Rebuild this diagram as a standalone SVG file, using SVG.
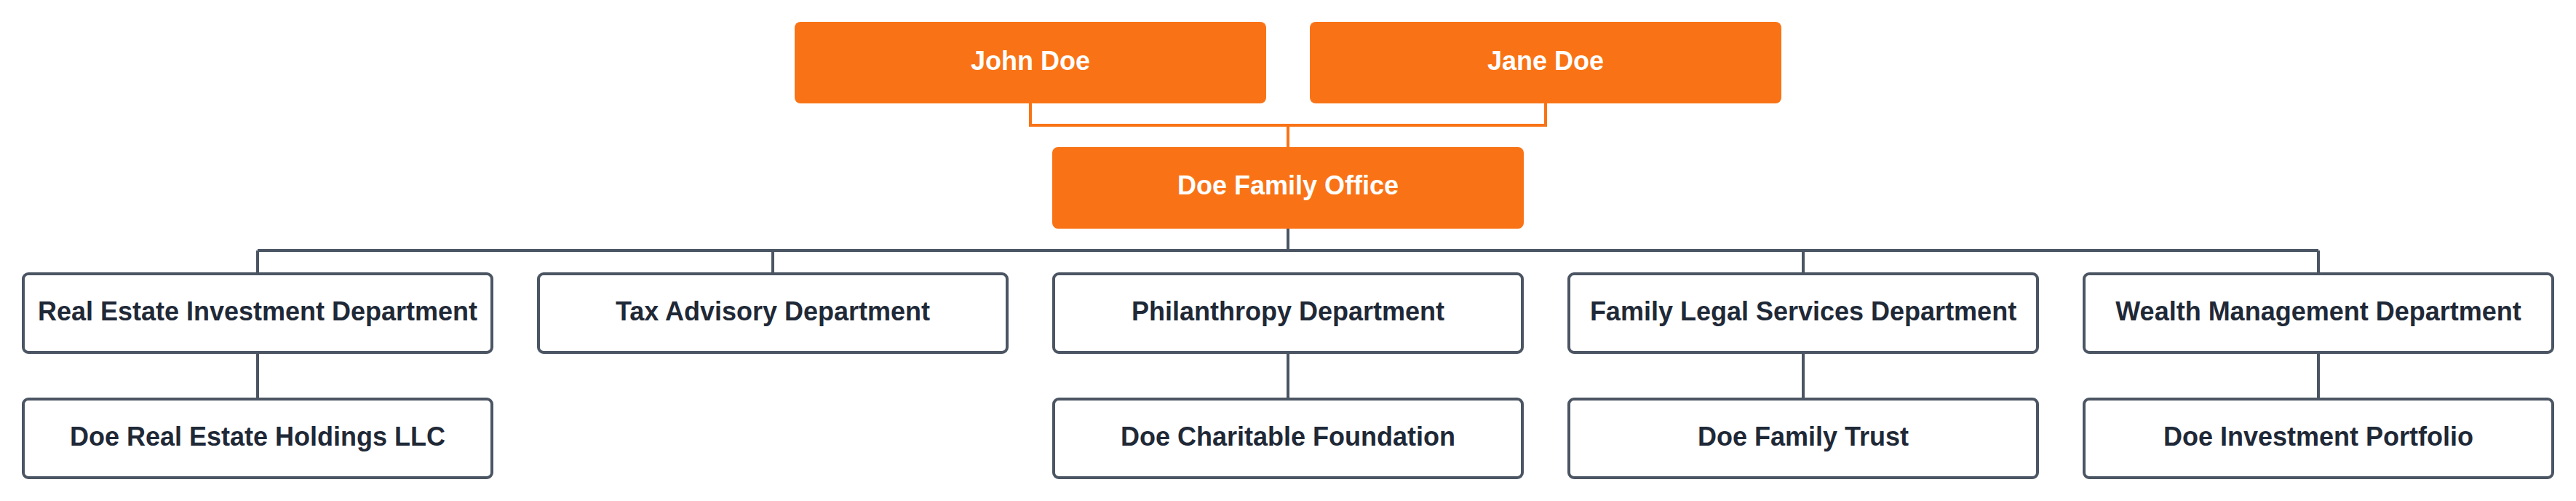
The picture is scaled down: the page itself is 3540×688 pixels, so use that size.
<svg xmlns="http://www.w3.org/2000/svg" width="3540" height="688" viewBox="0 0 3540 688">
<style>
.o{fill:#f97316}
.d{fill:#ffffff;stroke:#4b5563;stroke-width:4}
.t{font-family:"Liberation Sans",Arial,sans-serif;font-weight:bold;font-size:36px;text-anchor:middle}
.w{fill:#ffffff}
.k{fill:#1f2937}
.co{fill:none;stroke:#f97316;stroke-width:4}
.cg{fill:none;stroke:#4b5563;stroke-width:4}
</style>
<rect width="3540" height="688" fill="#ffffff"/>
<g id="connectors">
<path class="co" d="M1416 142V172H2124V142M1770 172V202"/>
<path class="cg" d="M1770 314V344M354 344H3186M354 344V374M1062 344V374M2478 344V374M3186 344V374"/>
<path class="cg" d="M354 486V546M1770 486V546M2478 486V546M3186 486V546"/>
</g>
<g id="john-doe"><rect class="o" x="1092" y="30" width="648" height="112" rx="8"/><text class="t w" x="1416" y="96">John Doe</text></g>
<g id="jane-doe"><rect class="o" x="1800" y="30" width="648" height="112" rx="8"/><text class="t w" x="2124" y="96">Jane Doe</text></g>
<g id="doe-family-office"><rect class="o" x="1446" y="202" width="648" height="112" rx="8"/><text class="t w" x="1770" y="267">Doe Family Office</text></g>
<g id="real-estate-dept"><rect class="d" x="32" y="376" width="644" height="108" rx="7"/><text class="t k" x="354" y="440">Real Estate Investment Department</text></g>
<g id="tax-advisory-dept"><rect class="d" x="740" y="376" width="644" height="108" rx="7"/><text class="t k" x="1062" y="440">Tax Advisory Department</text></g>
<g id="philanthropy-dept"><rect class="d" x="1448" y="376" width="644" height="108" rx="7"/><text class="t k" x="1770" y="440">Philanthropy Department</text></g>
<g id="family-legal-dept"><rect class="d" x="2156" y="376" width="644" height="108" rx="7"/><text class="t k" x="2478" y="440">Family Legal Services Department</text></g>
<g id="wealth-mgmt-dept"><rect class="d" x="2864" y="376" width="644" height="108" rx="7"/><text class="t k" x="3186" y="440">Wealth Management Department</text></g>
<g id="doe-real-estate-holdings"><rect class="d" x="32" y="548" width="644" height="108" rx="7"/><text class="t k" x="354" y="612">Doe Real Estate Holdings LLC</text></g>
<g id="doe-charitable-foundation"><rect class="d" x="1448" y="548" width="644" height="108" rx="7"/><text class="t k" x="1770" y="612">Doe Charitable Foundation</text></g>
<g id="doe-family-trust"><rect class="d" x="2156" y="548" width="644" height="108" rx="7"/><text class="t k" x="2478" y="612">Doe Family Trust</text></g>
<g id="doe-investment-portfolio"><rect class="d" x="2864" y="548" width="644" height="108" rx="7"/><text class="t k" x="3186" y="612">Doe Investment Portfolio</text></g>
</svg>
